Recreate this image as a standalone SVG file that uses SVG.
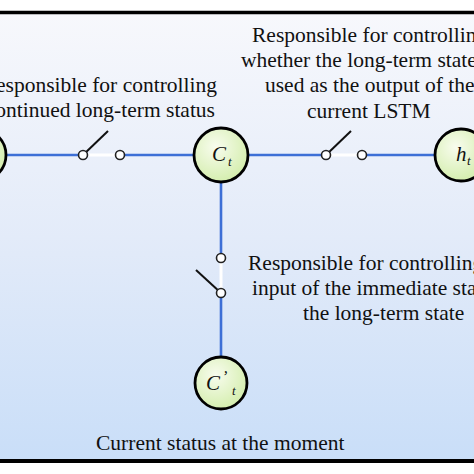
<svg xmlns="http://www.w3.org/2000/svg" width="474" height="474" viewBox="0 0 474 474">
<defs>
<linearGradient id="bg" x1="0" y1="0" x2="0" y2="1">
<stop offset="0" stop-color="#f7f8fc"/>
<stop offset="0.5" stop-color="#e3ebf9"/>
<stop offset="1" stop-color="#c9def8"/>
</linearGradient>
<radialGradient id="node" cx="0.4" cy="0.35" r="0.7">
<stop offset="0" stop-color="#f8fcee"/>
<stop offset="1" stop-color="#d2edaa"/>
</radialGradient>
<style>
.link{stroke:#3d6fd6;stroke-width:2.6;fill:none}
.gap{stroke:#ffffff;stroke-width:3;fill:none}
.lever{stroke:#111;stroke-width:2;fill:none}
.term{fill:#fff;stroke:#222;stroke-width:1.6}
.node{fill:url(#node);stroke:#000;stroke-width:2.8}
.lbl{font-family:"Liberation Serif","Times New Roman",serif;font-size:21.5px;fill:#111}
.sym{font-family:"Liberation Serif","Times New Roman",serif;font-style:italic;fill:#111}
</style>
</defs>
<rect x="0" y="0" width="474" height="474" fill="#ffffff"/>
<rect x="0" y="14" width="474" height="446" fill="url(#bg)"/>
<line x1="0" y1="12.5" x2="474" y2="12.5" stroke="#000" stroke-width="3.5"/>
<line x1="0" y1="461" x2="474" y2="461" stroke="#000" stroke-width="4"/>

<g id="connectors">
<line class="link" x1="0" y1="155" x2="83" y2="155"/>
<line class="gap" x1="83" y1="155" x2="120" y2="155"/>
<line class="link" x1="120" y1="155" x2="326" y2="155"/>
<line class="gap" x1="326" y1="155" x2="362" y2="155"/>
<line class="link" x1="362" y1="155" x2="440" y2="155"/>
<line class="link" x1="221" y1="155" x2="221" y2="258"/>
<line class="gap" x1="221" y1="258" x2="221" y2="293"/>
<line class="link" x1="221" y1="293" x2="221" y2="360"/>
<g id="switch-forget">
<line class="lever" x1="83" y1="155" x2="108" y2="131"/>
<circle class="term" cx="83" cy="155" r="4.5"/>
<circle class="term" cx="120" cy="155" r="4.5"/>
</g>
<g id="switch-output">
<line class="lever" x1="326" y1="155" x2="351" y2="131"/>
<circle class="term" cx="326" cy="155" r="4.5"/>
<circle class="term" cx="362" cy="155" r="4.5"/>
</g>
<g id="switch-input">
<line class="lever" x1="221" y1="293" x2="196" y2="270"/>
<circle class="term" cx="221" cy="258" r="4.5"/>
<circle class="term" cx="221" cy="293" r="4.5"/>
</g>
</g>

<g id="node-prev">
<circle class="node" cx="-20" cy="155" r="26"/>
</g>
<g id="node-Ct">
<circle class="node" cx="221" cy="155" r="27"/>
<text class="sym" x="212" y="161" font-size="21">C</text>
<text class="sym" x="228" y="166" font-size="13">t</text>
</g>
<g id="node-ht">
<circle class="node" cx="461" cy="155" r="26"/>
<text class="sym" x="456" y="161" font-size="21">h</text>
<text class="sym" x="467" y="165" font-size="13">t</text>
</g>
<g id="node-Cpt">
<circle class="node" cx="221" cy="383" r="26"/>
<text class="sym" x="206" y="390" font-size="21">C</text>
<text class="sym" x="222" y="382" font-size="16">’</text>
<text class="sym" x="232" y="395" font-size="13">t</text>
</g>

<g id="label-forget">
<text class="lbl" x="217" y="92" text-anchor="end">Responsible for controlling</text>
<text class="lbl" x="215" y="117" text-anchor="end">continued long-term status</text>
</g>
<g id="label-output">
<text class="lbl" x="252" y="42">Responsible for controlling</text>
<text class="lbl" x="241" y="67">whether the long-term state is</text>
<text class="lbl" x="265" y="92">used as the output of the</text>
<text class="lbl" x="307" y="118">current LSTM</text>
</g>
<g id="label-input">
<text class="lbl" x="248" y="270">Responsible for controlling the</text>
<text class="lbl" x="252" y="295">input of the immediate state to</text>
<text class="lbl" x="303" y="320">the long-term state</text>
</g>
<g id="label-current">
<text class="lbl" x="96" y="450">Current status at the moment</text>
</g>
</svg>
